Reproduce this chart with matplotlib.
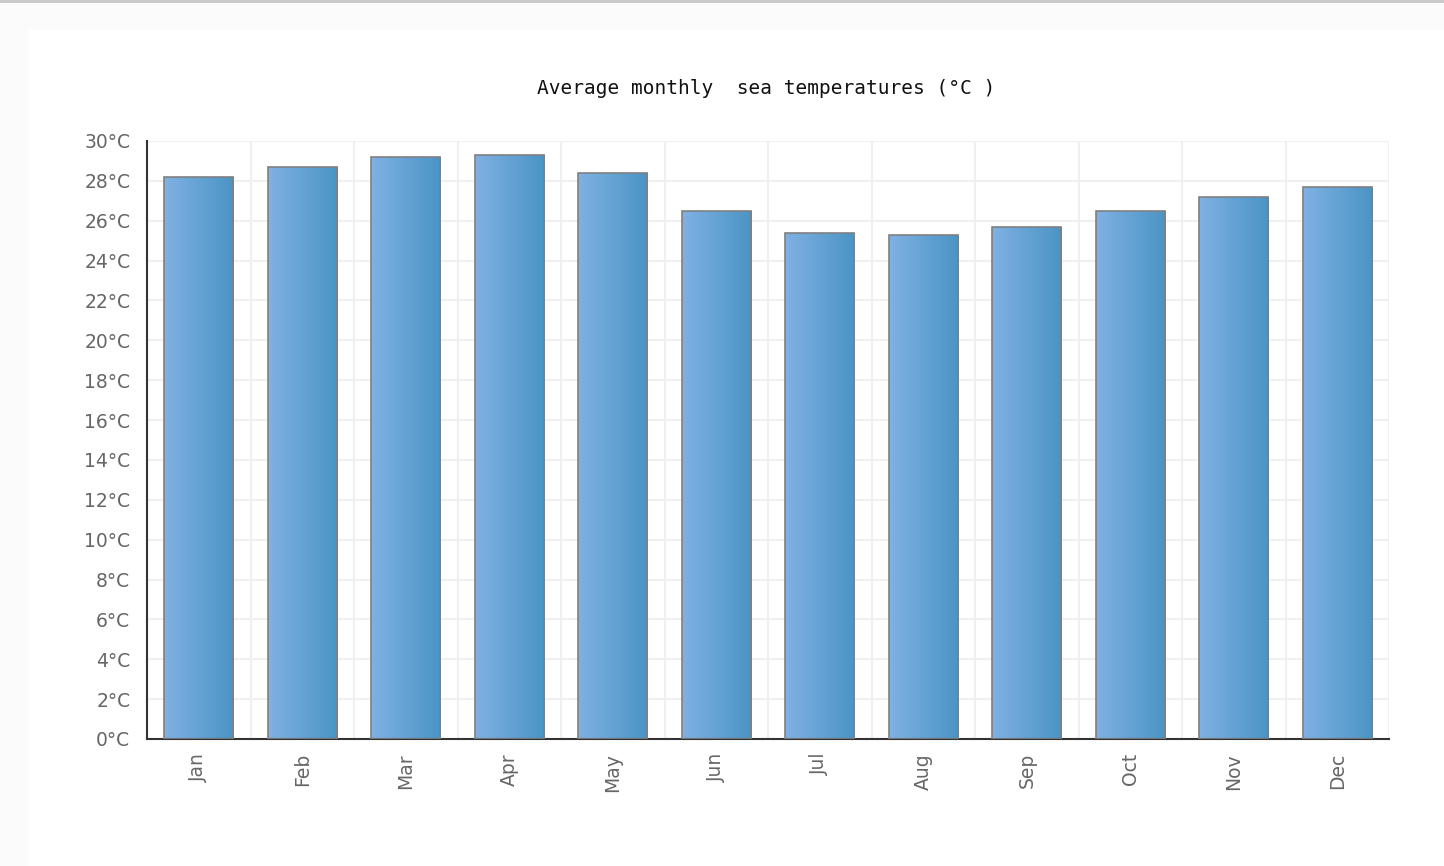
import numpy as np
import matplotlib.pyplot as plt
from matplotlib.colors import LinearSegmentedColormap

months = ["Jan", "Feb", "Mar", "Apr", "May", "Jun",
          "Jul", "Aug", "Sep", "Oct", "Nov", "Dec"]
sea_temp = [28.2, 28.7, 29.2, 29.3, 28.4, 26.5,
            25.4, 25.3, 25.7, 26.5, 27.2, 27.7]
y_ticks = list(range(0, 31, 2))

fig = plt.figure(figsize=(14.44, 8.66), dpi=100)
fig.patch.set_facecolor("#fbfbfb")
# white card + thin grey top line
fig.add_artist(plt.Rectangle((0.02, 0.0), 0.98, 0.965, transform=fig.transFigure,
                             facecolor="white", edgecolor="none", zorder=0))
fig.add_artist(plt.Line2D([0, 1], [0.999, 0.999], transform=fig.transFigure,
                          color="#c8c8c8", lw=2))

ax = fig.add_axes([147 / 1444, 1 - 739 / 866, (1389 - 147) / 1444, (739 - 141) / 866])
ax.set_facecolor("white")

x = np.arange(len(months))
bars = ax.bar(x, sea_temp, width=0.67, color="none", edgecolor="#808080",
              linewidth=1.2, zorder=3)

cmap = LinearSegmentedColormap.from_list("blu", ["#80b1e3", "#4a94c5"])
grad = np.linspace(0, 1, 256).reshape(1, -1)
for b in bars:
    im = ax.imshow(grad, cmap=cmap, aspect="auto", zorder=2,
                   extent=[b.get_x(), b.get_x() + b.get_width(), 0, b.get_height()])
    im.set_clip_path(b)

ax.set_xlim(-0.5, len(months) - 0.5)
ax.set_ylim(0, 30)
ax.set_yticks(y_ticks)
ax.set_yticklabels([f"{v}°C" for v in y_ticks])
ax.set_xticks(x)
ax.set_xticklabels(months, rotation=90)
ax.set_xticks(np.arange(-0.5, len(months), 1), minor=True)

ax.grid(True, which="major", axis="y", color="#f0f0f0", lw=1.5, zorder=0)
ax.grid(True, which="minor", axis="x", color="#f0f0f0", lw=1.5, zorder=0)
ax.tick_params(which="both", length=0)
ax.tick_params(axis="both", labelsize=13.5, colors="#666666")
ax.tick_params(axis="y", pad=12)
ax.tick_params(axis="x", pad=10)

for s in ["top", "right"]:
    ax.spines[s].set_visible(False)
ax.spines["left"].set_color("#333333")
ax.spines["bottom"].set_color("#333333")
ax.spines["left"].set_linewidth(1.5)
ax.spines["bottom"].set_linewidth(1.5)

fig.text(766 / 1444, 1 - 88 / 866, "Average monthly  sea temperatures (°C )",
         ha="center", va="center", fontsize=14, family="DejaVu Sans Mono",
         color="#111111")

fig.savefig("out.png", dpi=100, facecolor=fig.get_facecolor())
